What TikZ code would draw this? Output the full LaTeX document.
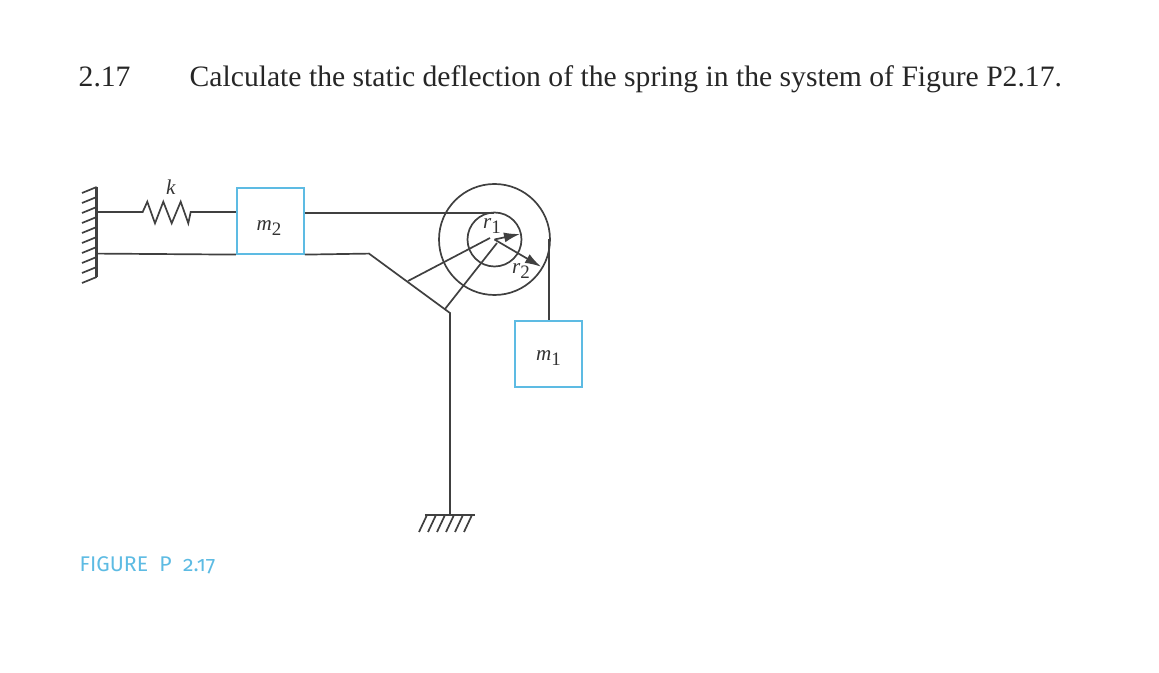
\documentclass[tikz,border=0pt]{standalone}
\usepackage{fontspec}
\setmainfont{Liberation Serif}
\newfontfamily\capfont[Numbers=OldStyle]{Fira Sans}
\usetikzlibrary{arrows.meta}
\definecolor{figblue}{HTML}{5DBBE3}
\newcommand{\sublabel}[2]{\textit{#1}\raisebox{-0.6ex}{\fontsize{5.4}{6}\selectfont #2}}
\tikzset{
	mech/.style={line width=0.17mm, color=black!75},
	massbox/.style={draw=figblue, fill=white, line width=0.2mm, inner sep=0pt, minimum width=0.67cm, minimum height=0.66cm},
	radius arrow/.style={mech, -{Latex[length=1.6mm,width=1mm]}},
	small label/.style={inner sep=0pt, text=black!80, font=\fontsize{6}{7}\selectfont},
	title text/.style={anchor=base west, inner sep=0pt, text=black!85, font=\fontsize{8.43}{10}\selectfont}
}

\begin{document}
\begin{tikzpicture}
			%%%%% START %%%%%
			
			\useasboundingbox (0, 0) rectangle (11.59, -6.73);
			
			\node[title text] (number) at (0.78, -0.87) {2.17};
			\node[title text] (title) at (1.89, -0.87) {Calculate the static deflection of the spring in the system of Figure P2.17.};
			
			\coordinate (wallTop) at (0.967, -2.12);
			\coordinate (wallBottom) at (0.967, -2.536);
			\coordinate (wheelCentre) at (4.945, -2.395);
			\coordinate (wheelTop) at (4.945, -2.13);
			\coordinate (wheelRight) at (5.49, -2.395);
			\coordinate (railBend) at (3.69, -2.536);
			\coordinate (postTop) at (4.5, -3.13);
			\coordinate (postBottom) at (4.5, -5.15);
			
			% wall
			\draw[mech, line width=0.25mm] (0.967, -1.87) -- (0.967, -2.77);
			\draw[mech] (0.967, -1.87) -- (0.82, -1.93);
			\draw[mech] (0.967, -1.97) -- (0.82, -2.03);
			\draw[mech] (0.967, -2.07) -- (0.82, -2.13);
			\draw[mech] (0.967, -2.17) -- (0.82, -2.23);
			\draw[mech] (0.967, -2.27) -- (0.82, -2.33);
			\draw[mech] (0.967, -2.37) -- (0.82, -2.43);
			\draw[mech] (0.967, -2.47) -- (0.82, -2.53);
			\draw[mech] (0.967, -2.57) -- (0.82, -2.63);
			\draw[mech] (0.967, -2.67) -- (0.82, -2.73);
			\draw[mech] (0.967, -2.77) -- (0.82, -2.83);
			
			% masses
			\node[massbox] (m2Box) at (2.703, -2.206) {};
			\node[massbox] (m1Box) at (5.49, -3.54) {};
			\node[small label] (m2Label) at (2.69, -2.28) {\sublabel{m}{2}};
			\node[small label] (m1Label) at (5.485, -3.58) {\sublabel{m}{1}};
			
			% spring
			\draw[mech] (wallTop) -- (1.427, -2.12) -- (1.473, -2.017) -- (1.55, -2.233) -- (1.633, -2.017) -- (1.717, -2.233) -- (1.807, -2.017) -- (1.883, -2.233) -- (1.907, -2.12) -- (m2Box.west |- wallTop);
			\node[small label] (springLabel) at (1.71, -1.87) {\textit{k}};
			
			% rail and post
			\draw[mech] (wallBottom) -- (m2Box.south west);
			\draw[mech] (m2Box.south east) -- (railBend) -- (postTop) -- (postBottom);
			
			% ground
			\draw[mech, line width=0.2mm] (4.25, -5.15) -- (4.75, -5.15);
			\draw[mech] (4.27, -5.15) -- (4.19, -5.32);
			\draw[mech] (4.36, -5.15) -- (4.28, -5.32);
			\draw[mech] (4.45, -5.15) -- (4.37, -5.32);
			\draw[mech] (4.54, -5.15) -- (4.46, -5.32);
			\draw[mech] (4.63, -5.15) -- (4.55, -5.32);
			\draw[mech] (4.72, -5.15) -- (4.64, -5.32);
			
			% pulley
			\draw[mech] (wheelCentre) circle (0.555);
			\draw[mech] (wheelCentre) circle (0.27);
			\draw[mech] (m2Box.east |- wheelTop) -- (wheelTop);
			\draw[mech] (wheelRight) -- (wheelRight |- m1Box.north);
			\draw[mech] (4.9, -2.38) -- (4.08, -2.81);
			\draw[mech] (4.97, -2.43) -- (4.45, -3.09);
			\draw[radius arrow] (wheelCentre) -- (5.2, -2.34);
			\draw[radius arrow] (wheelCentre) -- (5.41, -2.667);
			\node[small label] (r1Label) at (4.92, -2.26) {\sublabel{r}{1}};
			\node[small label] (r2Label) at (5.21, -2.71) {\sublabel{r}{2}};
			
			\node[anchor=base west, inner sep=0pt, text=figblue, font=\capfont\fontsize{6.05}{7}\selectfont] (caption) at (0.79, -5.72) {FIGURE\ \ P\ \ 2.17};
			
			%%%%% END %%%%%
		\end{tikzpicture}
\end{document}
